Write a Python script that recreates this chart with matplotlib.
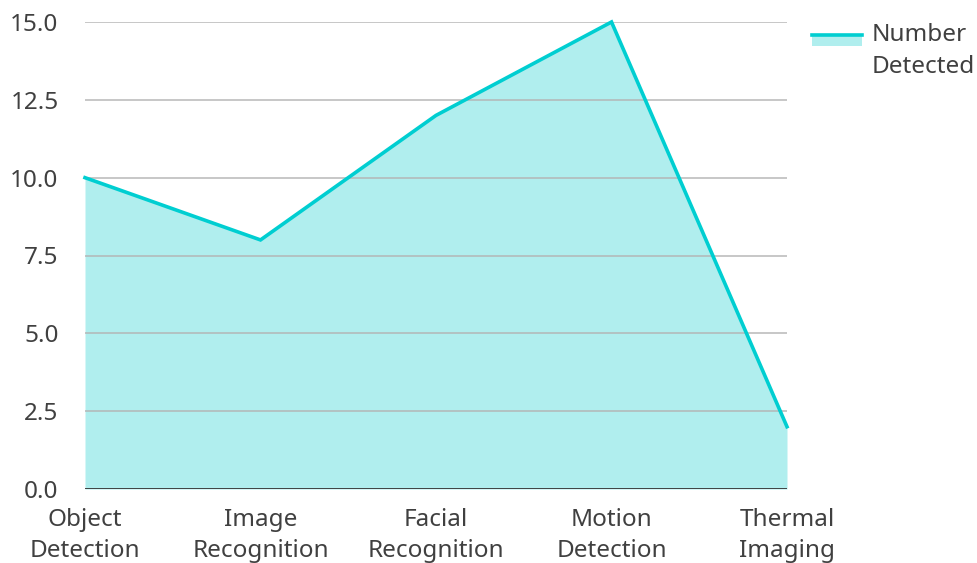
"""Area chart of detections per computer vision technique"""

import matplotlib.pyplot as plt
from matplotlib.lines import Line2D
from matplotlib.patches import Rectangle

plt.rcParams["font.family"] = ["Noto Sans", "DejaVu Sans"]

categories = ["Object\nDetection", "Image\nRecognition", "Facial\nRecognition",
              "Motion\nDetection", "Thermal\nImaging"]
number_detected = [10, 8, 12, 15, 2]
y_ticks = [0.0, 2.5, 5.0, 7.5, 10.0, 12.5, 15.0]

LINE = "#00CED1"
FILL = "#B0EEEE"
TEXT = "#404040"
FS = 17.5

fig = plt.figure(figsize=(9.77, 5.63), dpi=100)
ax = fig.add_axes([85 / 977, 1 - 489 / 563, (787 - 85) / 977, (489 - 22) / 563])

x = range(len(categories))
ax.fill_between(x, number_detected, 0, color=FILL, linewidth=0, zorder=1)
ax.plot(x, number_detected, color=LINE, linewidth=2.6, zorder=3,
        solid_joinstyle="miter", clip_on=False)

ax.set_xlim(0, len(categories) - 1)
ax.set_ylim(0, 15)
ax.set_yticks(y_ticks)
ax.set_yticklabels([f"{t:.1f}" for t in y_ticks])
ax.set_xticks(list(x))
ax.set_xticklabels(categories, linespacing=1.38)

# gridlines sit above the fill
for t in y_ticks[1:]:
    ax.axhline(t, color="#b4b4b4", linewidth=1.4, alpha=0.75, zorder=2)
ax.axhline(0, color="#333333", linewidth=2, zorder=4)

for side in ["top", "right", "left", "bottom"]:
    ax.spines[side].set_visible(False)
ax.tick_params(axis="both", length=0, labelsize=FS, colors=TEXT)
ax.tick_params(axis="y", pad=19)
ax.tick_params(axis="x", pad=14)

# legend
fig.add_artist(Rectangle((812 / 977, 1 - 46 / 563), 50 / 977, 11 / 563,
                         transform=fig.transFigure, color=FILL, linewidth=0))
fig.add_artist(Line2D([812 / 977, 862 / 977], [1 - 35 / 563, 1 - 35 / 563],
                      transform=fig.transFigure, color=LINE, linewidth=2.6))
fig.text(872 / 977, 1 - 51 / 563, "Number\nDetected", fontsize=FS,
         color=TEXT, va="center", ha="left", linespacing=1.42)

plt.savefig("out.png", dpi=100)
